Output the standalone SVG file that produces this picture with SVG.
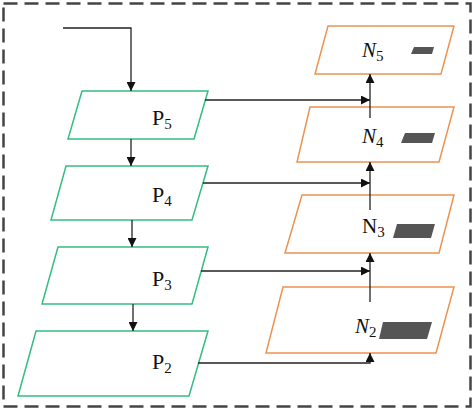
<svg xmlns="http://www.w3.org/2000/svg" width="474" height="410" viewBox="0 0 474 410">
<defs>
<marker id="ah" viewBox="0 0 10 10" refX="10" refY="5" markerWidth="9" markerHeight="9" markerUnits="userSpaceOnUse" orient="auto">
<path d="M0,0 L10,5 L0,10 z" fill="#111"/>
</marker>
<style>
.p{fill:#fff;stroke:#34bd80;stroke-width:1.5}
.n{fill:#fff;stroke:#ec9350;stroke-width:1.5}
.blk{fill:#555;stroke:none}
.c{fill:none;stroke:#222;stroke-width:1.3}
.lbl{font-family:"Liberation Serif","DejaVu Serif",serif;font-size:22px;fill:#111}
.nl{font-size:21px}
.it{font-style:italic}
.sub{font-size:15px;font-style:normal}
</style>
</defs>
<rect width="474" height="410" fill="#fff"/>
<rect x="3.5" y="3.5" width="467" height="403" fill="none" stroke="#444" stroke-width="2.5" stroke-dasharray="14 7"/>

<g id="P5"><polygon class="p" points="82,91 208,91 194,139 68,139"/><text class="lbl" x="152" y="125">P<tspan class="sub" dy="4">5</tspan></text></g>
<g id="P4"><polygon class="p" points="66,166 208,166 192,220 51,220"/><text class="lbl" x="152" y="202">P<tspan class="sub" dy="4">4</tspan></text></g>
<g id="P3"><polygon class="p" points="58,247 208,247 192,304 42,304"/><text class="lbl" x="152" y="286">P<tspan class="sub" dy="4">3</tspan></text></g>
<g id="P2"><polygon class="p" points="36,331 208,331 189,396 18,396"/><text class="lbl" x="152" y="369">P<tspan class="sub" dy="4">2</tspan></text></g>

<g id="N5"><polygon class="n" points="328,26 454,26 441,74 315,74"/><polygon class="blk" points="414,47 434,47 432,54 411,54"/><text class="lbl nl it" x="362" y="57">N<tspan class="sub" dy="4">5</tspan></text></g>
<g id="N4"><polygon class="n" points="310,107 454,107 439,162 297,162"/><polygon class="blk" points="405,133 435,133 432,143 401,143"/><text class="lbl nl it" x="362" y="143">N<tspan class="sub" dy="4">4</tspan></text></g>
<g id="N3"><polygon class="n" points="302,195 454,195 439,253 285,253"/><polygon class="blk" points="397,224 435,224 431,238 393,238"/><text class="lbl nl" x="362" y="233">N<tspan class="sub" dy="4">3</tspan></text></g>
<g id="N2"><polygon class="n" points="283,287 454,287 436,353 266,353"/><polygon class="blk" points="383,322 432,322 427,339 379,339"/><text class="lbl nl it" x="355" y="333">N<tspan class="sub" dy="4">2</tspan></text></g>

<g id="connectors">
<path class="c" d="M63,28 H131 V91" marker-end="url(#ah)"/>
<path class="c" d="M131,139 V166" marker-end="url(#ah)"/>
<path class="c" d="M132,220 V247" marker-end="url(#ah)"/>
<path class="c" d="M133,304 V331" marker-end="url(#ah)"/>
<path class="c" d="M205,100 H370" marker-end="url(#ah)"/>
<path class="c" d="M203,183 H370" marker-end="url(#ah)"/>
<path class="c" d="M201,271 H370" marker-end="url(#ah)"/>
<path class="c" d="M198,363 H370 V353" marker-end="url(#ah)"/>
<path class="c" d="M370,302 V253" marker-end="url(#ah)"/>
<path class="c" d="M370,210 V162" marker-end="url(#ah)"/>
<path class="c" d="M370,118 V74" marker-end="url(#ah)"/>
</g>
</svg>
